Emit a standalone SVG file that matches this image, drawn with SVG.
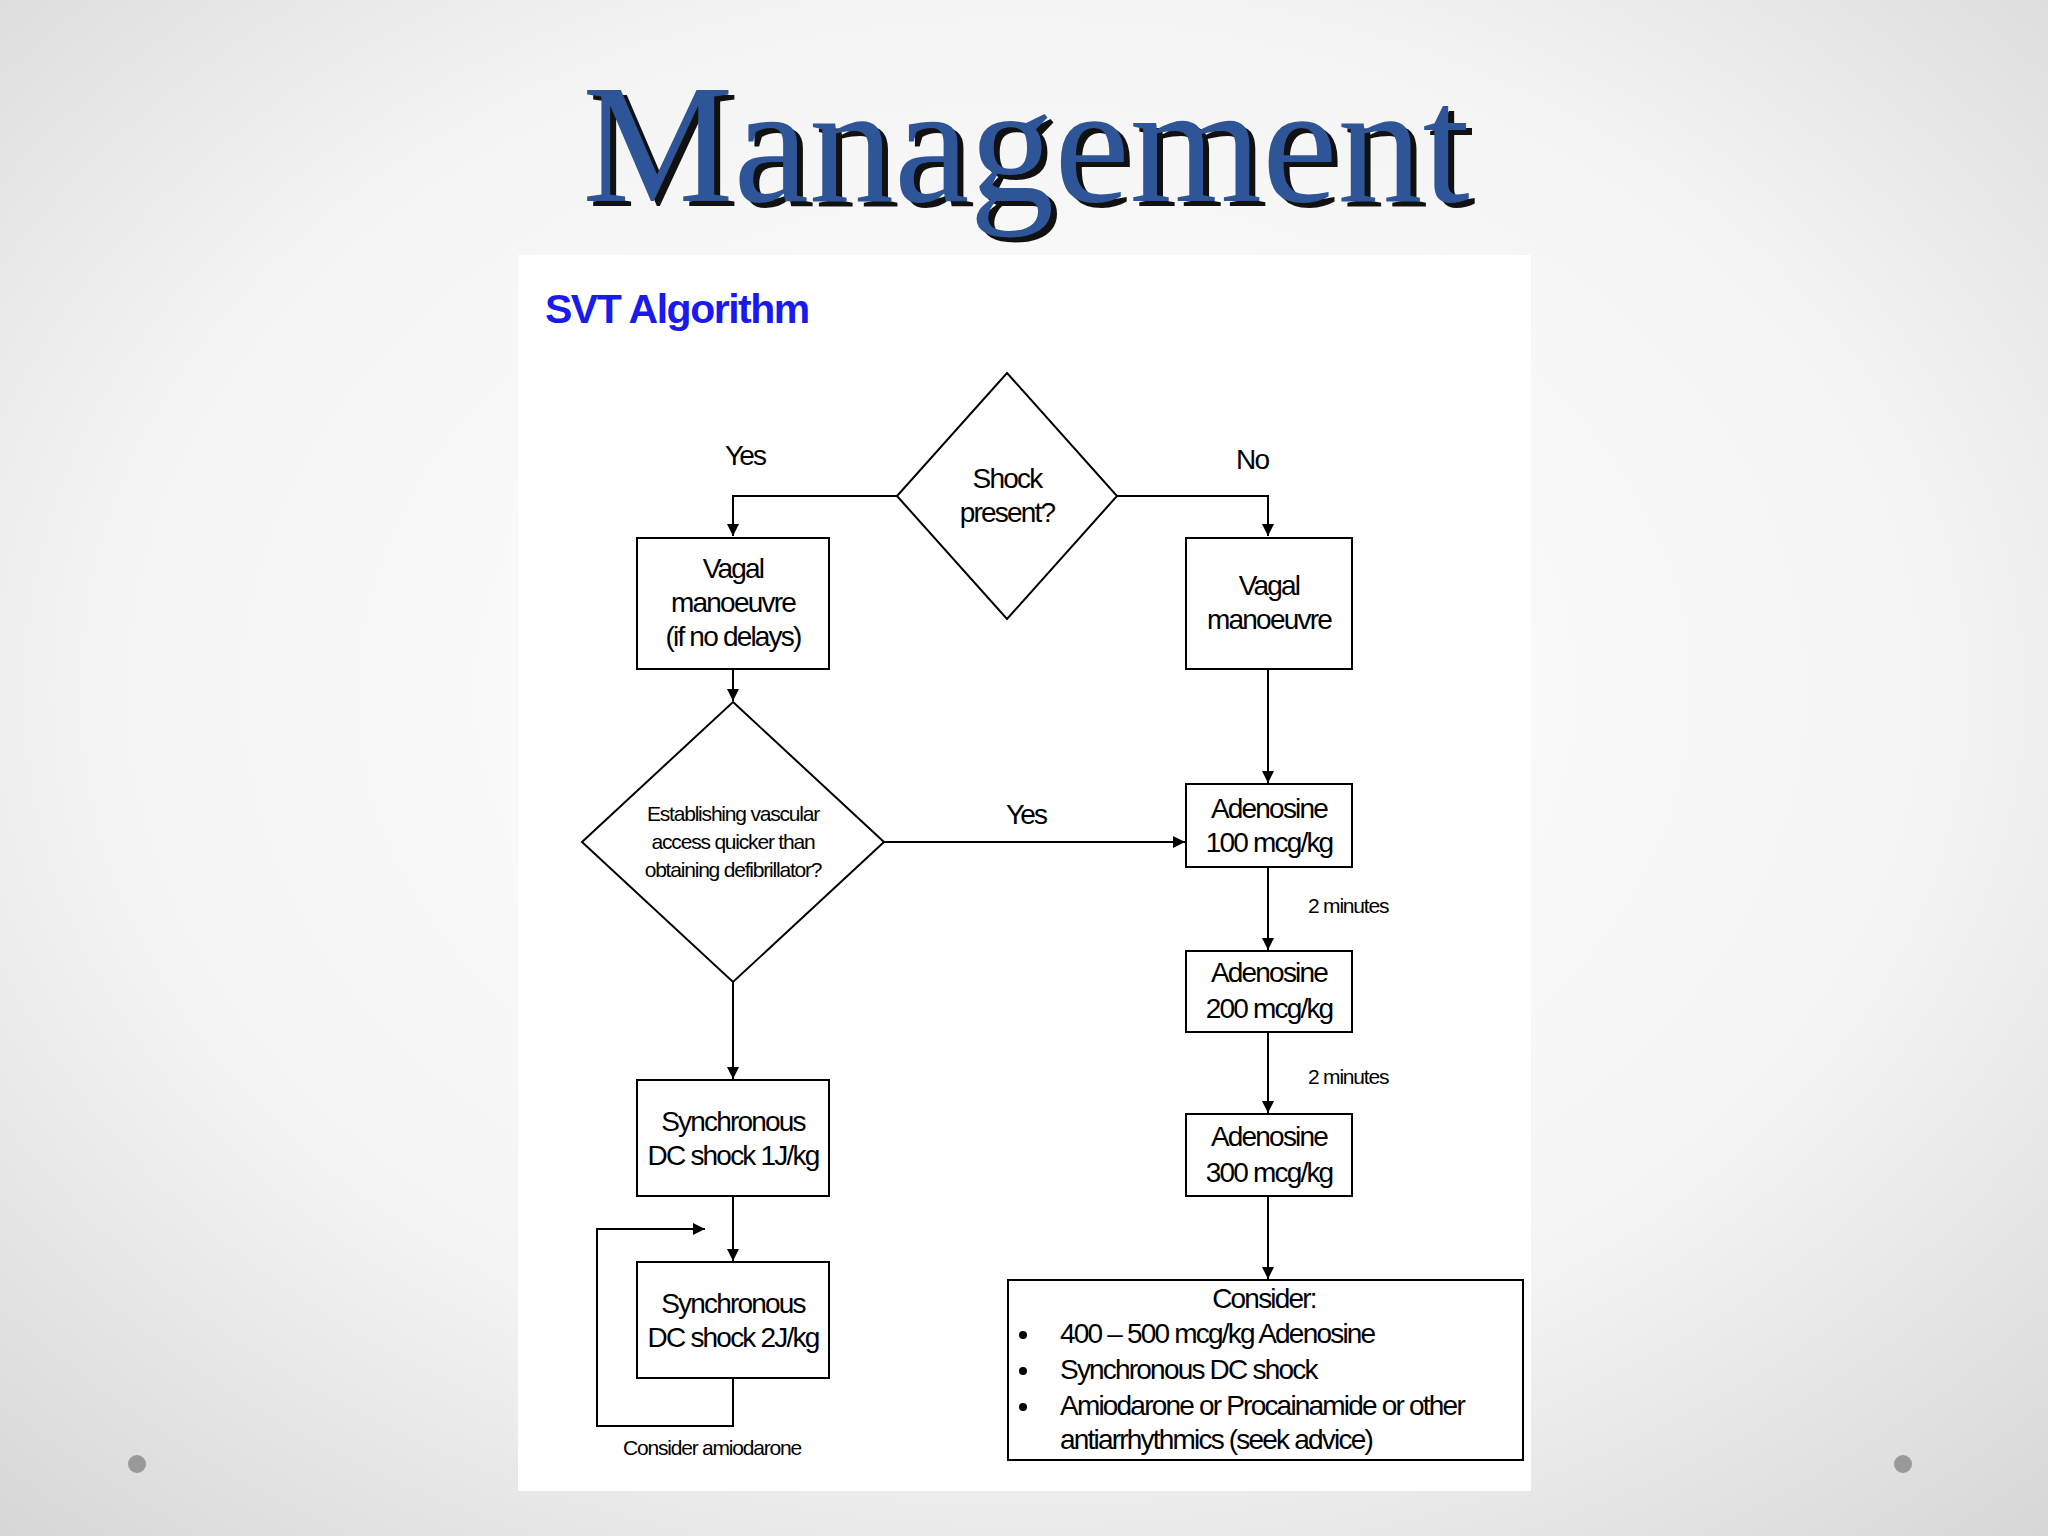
<svg xmlns="http://www.w3.org/2000/svg" width="2048" height="1536" viewBox="0 0 2048 1536">
<defs>
<radialGradient id="bg" cx="50%" cy="45%" r="75%"><stop offset="0" stop-color="#ffffff"/><stop offset="0.6" stop-color="#f4f4f4"/><stop offset="1" stop-color="#d6d6d6"/></radialGradient>
<marker id="ah" viewBox="0 0 10 10" refX="10" refY="5" markerWidth="12" markerHeight="12" markerUnits="userSpaceOnUse" orient="auto"><path d="M0,0 L10,5 L0,10 z" fill="#000"/></marker>
</defs>
<style>
.n{fill:#fff;stroke:#000;stroke-width:2}
.t{font-family:"Liberation Sans",Arial,sans-serif;font-size:28px;letter-spacing:-1.8px;fill:#000;text-anchor:middle}
.l{font-family:"Liberation Sans",Arial,sans-serif;font-size:28px;letter-spacing:-1.8px;fill:#000}
.s{font-size:21px;letter-spacing:-1.2px}
.c{fill:none;stroke:#000;stroke-width:2}
</style>
<rect width="2048" height="1536" fill="url(#bg)"/>
<text x="1032" y="206" font-family="Liberation Serif,serif" font-size="170" fill="#111" text-anchor="middle">Management</text>
<text x="1026" y="201" font-family="Liberation Serif,serif" font-size="170" fill="#2E5597" text-anchor="middle">Management</text>
<rect x="518" y="255" width="1013" height="1236" fill="#fff"/>
<text x="545" y="323" font-family="Liberation Sans,Arial,sans-serif" font-weight="bold" font-size="41" letter-spacing="-1.5" fill="#1a1aee">SVT Algorithm</text>
<g id="connectors">
<polyline class="c" points="897,496 733,496 733,536" marker-end="url(#ah)"/>
<polyline class="c" points="1117,496 1268,496 1268,536" marker-end="url(#ah)"/>
<line class="c" x1="733" y1="669" x2="733" y2="701" marker-end="url(#ah)"/>
<line class="c" x1="884" y1="842" x2="1185" y2="842" marker-end="url(#ah)"/>
<line class="c" x1="1268" y1="669" x2="1268" y2="783" marker-end="url(#ah)"/>
<line class="c" x1="1268" y1="867" x2="1268" y2="950" marker-end="url(#ah)"/>
<line class="c" x1="1268" y1="1032" x2="1268" y2="1113" marker-end="url(#ah)"/>
<line class="c" x1="1268" y1="1196" x2="1268" y2="1279" marker-end="url(#ah)"/>
<line class="c" x1="733" y1="982" x2="733" y2="1079" marker-end="url(#ah)"/>
<line class="c" x1="733" y1="1196" x2="733" y2="1261" marker-end="url(#ah)"/>
<polyline class="c" points="733,1378 733,1426 597,1426 597,1229 705,1229" marker-end="url(#ah)"/>
<text class="l" x="725" y="465">Yes</text>
<text class="l" x="1236" y="469">No</text>
<text class="l" x="1006" y="824">Yes</text>
<text class="l s" x="1308" y="913">2 minutes</text>
<text class="l s" x="1308" y="1084">2 minutes</text>
<text class="t s" x="712" y="1455">Consider amiodarone</text>
</g>
<g id="shock"><polygon class="n" points="1007,373 1117,496 1007,619 897,496"/><text class="t" x="1007" y="488">Shock</text><text class="t" x="1007" y="522">present?</text></g>
<g id="vagal-left"><rect class="n" x="637" y="538" width="192" height="131"/><text class="t" x="733" y="578">Vagal</text><text class="t" x="733" y="612">manoeuvre</text><text class="t" x="733" y="646">(if no delays)</text></g>
<g id="vagal-right"><rect class="n" x="1186" y="538" width="166" height="131"/><text class="t" x="1269" y="595">Vagal</text><text class="t" x="1269" y="629">manoeuvre</text></g>
<g id="access"><polygon class="n" points="733,702 884,842 733,982 582,842"/><text class="t s" x="733" y="821">Establishing vascular</text><text class="t s" x="733" y="849">access quicker than</text><text class="t s" x="733" y="877">obtaining defibrillator?</text></g>
<g id="ad100"><rect class="n" x="1186" y="784" width="166" height="83"/><text class="t" x="1269" y="818">Adenosine</text><text class="t" x="1269" y="852">100 mcg/kg</text></g>
<g id="ad200"><rect class="n" x="1186" y="951" width="166" height="81"/><text class="t" x="1269" y="982">Adenosine</text><text class="t" x="1269" y="1018">200 mcg/kg</text></g>
<g id="ad300"><rect class="n" x="1186" y="1114" width="166" height="82"/><text class="t" x="1269" y="1146">Adenosine</text><text class="t" x="1269" y="1182">300 mcg/kg</text></g>
<g id="sync1"><rect class="n" x="637" y="1080" width="192" height="116"/><text class="t" x="733" y="1131">Synchronous</text><text class="t" x="733" y="1165">DC shock 1J/kg</text></g>
<g id="sync2"><rect class="n" x="637" y="1262" width="192" height="116"/><text class="t" x="733" y="1313">Synchronous</text><text class="t" x="733" y="1347">DC shock 2J/kg</text></g>
<g id="consider"><rect class="n" x="1008" y="1280" width="515" height="180"/>
<text class="t" x="1264" y="1308">Consider:</text>
<g fill="#000"><circle cx="1023" cy="1335" r="4"/><circle cx="1023" cy="1371" r="4"/><circle cx="1023" cy="1407" r="4"/></g>
<text class="l" x="1060" y="1343">400 – 500 mcg/kg Adenosine</text>
<text class="l" x="1060" y="1379">Synchronous DC shock</text>
<text class="l" x="1060" y="1415">Amiodarone or Procainamide or other</text>
<text class="l" x="1060" y="1449">antiarrhythmics (seek advice)</text></g>
<circle cx="137" cy="1464" r="9" fill="#999"/><circle cx="1903" cy="1464" r="9" fill="#999"/>
</svg>
